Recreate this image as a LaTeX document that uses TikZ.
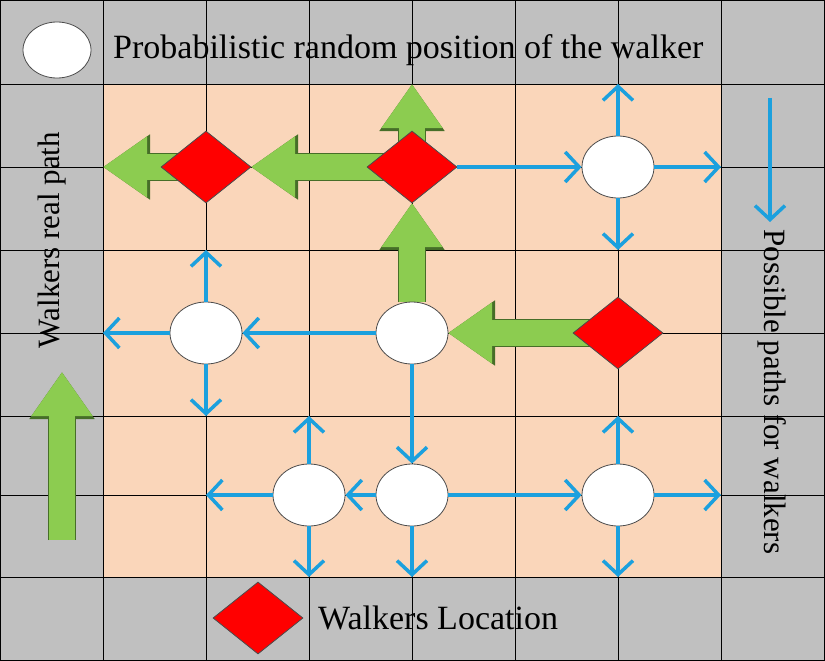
\documentclass[tikz,border=0pt]{standalone}
\usepackage{fontspec}
\setmainfont{Liberation Serif}
\usetikzlibrary{shapes.geometric,arrows.meta}
\definecolor{cellgray}{RGB}{192,192,192}
\definecolor{peach}{RGB}{250,214,186}
\definecolor{bluea}{RGB}{27,160,222}
\definecolor{greena}{RGB}{140,204,80}
\definecolor{greenedge}{RGB}{70,110,40}
\tikzset{
  ell/.style={ellipse,draw=black!70,fill=white,minimum width=72pt,minimum height=62pt,inner sep=0pt,line width=0.8pt},
  dia/.style={diamond,draw=black!70,fill=red,minimum width=90pt,minimum height=72pt,inner sep=0pt,line width=0.8pt},
  barrow/.style={draw=bluea,line width=3.5pt,-{Straight Barb[length=14pt,width=30pt,line width=3.5pt]}},
  garrowout/.style={draw=greenedge,line width=28pt,-{Triangle[length=47pt,width=62pt]}},
  garrowin/.style={draw=greena,line width=25.5pt,-{Triangle[length=44pt,width=58pt]}},
  bigtext/.style={font=\fontsize{34}{40}\selectfont,inner sep=0pt},
  sidetext/.style={font=\fontsize{31}{36}\selectfont,inner sep=0pt}
}
\newcommand{\garrow}[2]{\draw[garrowout] #1 -- #2; \draw[garrowin] #1 -- #2;}
\begin{document}
\begin{tikzpicture}[x=1pt,y=-1pt]
\useasboundingbox (0,0) rectangle (825,661);
\fill[cellgray] (0,0) rectangle (825,661);
\fill[peach] (103,84) rectangle (721,577);
\foreach \x in {103,206,309,412,515,618,721} \draw[line width=0.8pt] (\x,0) -- (\x,661);
\foreach \y in {84,167,250,333,416,495,577} \draw[line width=0.8pt] (0,\y) -- (825,\y);
\draw[line width=1pt] (0.5,0.5) rectangle (824.5,660.5);
% coordinates
\coordinate (t1) at (412,84);
\coordinate (l1) at (103,167);
\coordinate (g1) at (62,540);
\coordinate (g2) at (62,372);
% green real path (tails under nodes)
\coordinate (dAc) at (412,167);
\coordinate (dBc) at (618,333);
\coordinate (dCc) at (206,167);
\coordinate (e2c) at (412,333);
\garrow{(dBc)}{(448,333)}
\garrow{(412,302)}{(412,203)}
\garrow{(dAc)}{(t1)}
\garrow{(dAc)}{(251,167)}
\garrow{(dCc)}{(l1)}
\garrow{(g1)}{(g2)}
% nodes
\node[dia] (dA) at (412,167) {};
\node[dia] (dC) at (206,167) {};
\node[dia] (dB) at (618,333) {};
\node[ell] (e1) at (618,167) {};
\node[ell] (e2) at (412,333) {};
\node[ell] (e3) at (206,333) {};
\node[ell] (e4) at (412,495) {};
\node[ell] (e5) at (309,495) {};
\node[ell] (e6) at (618,495) {};
\node[ell,minimum width=68pt,minimum height=56pt] (leg1) at (57,50) {};
\node[dia] (leg2) at (258,618) {};
% blue arrows
\draw[barrow] (dA.east) -- (e1.west);
\draw[barrow] (e1.north) -- (618,84);
\draw[barrow] (e1.south) -- (618,250);
\draw[barrow] (e1.east) -- (721,167);
\draw[barrow] (e3.north) -- (206,250);
\draw[barrow] (e3.west) -- (103,333);
\draw[barrow] (e3.south) -- (206,416);
\draw[barrow] (e2.west) -- (e3.east);
\draw[barrow] (e2.south) -- (e4.north);
\draw[barrow] (e4.west) -- (e5.east);
\draw[barrow] (e4.east) -- (e6.west);
\draw[barrow] (e4.south) -- (412,577);
\draw[barrow] (e5.north) -- (309,416);
\draw[barrow] (e5.west) -- (206,495);
\draw[barrow] (e5.south) -- (309,577);
\draw[barrow] (e6.north) -- (618,416);
\draw[barrow] (e6.east) -- (721,495);
\draw[barrow] (e6.south) -- (618,577);
\draw[barrow] (770,98) -- (770,222);
% texts
\node[bigtext,anchor=west] (txt1) at (113,50) {Probabilistic random position of the walker};
\node[bigtext,anchor=west] (txt2) at (318,618) {Walkers Location};
\node[sidetext,rotate=90] (txt3) at (52,240) {Walkers real path};
\node[sidetext,rotate=-90] (txt4) at (772,392) {Possible paths for walkers};
\end{tikzpicture}
\end{document}
